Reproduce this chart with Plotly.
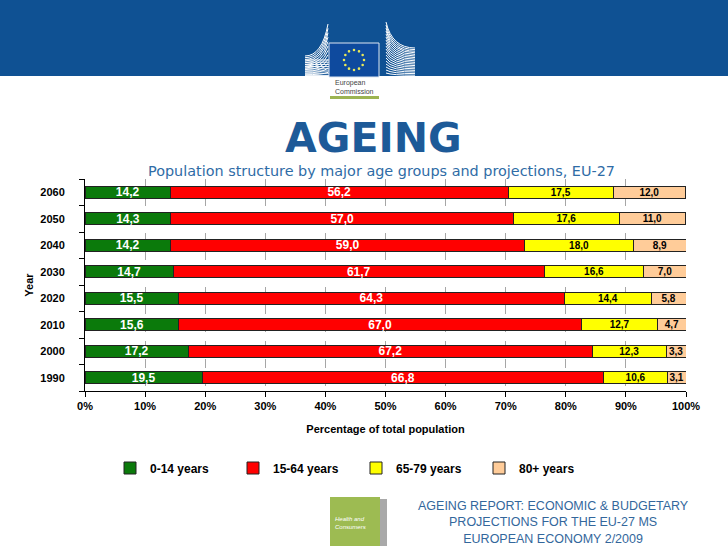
import plotly.graph_objects as go
import math

# ---------------- data ----------------
years = ["1990", "2000", "2010", "2020", "2030", "2040", "2050", "2060"]
age_0_14 = [19.5, 17.2, 15.6, 15.5, 14.7, 14.2, 14.3, 14.2]
age_15_64 = [66.8, 67.2, 67.0, 64.3, 61.7, 59.0, 57.0, 56.2]
age_65_79 = [10.6, 12.3, 12.7, 14.4, 16.6, 18.0, 17.6, 17.5]
age_80p = [3.1, 3.3, 4.7, 5.8, 7.0, 8.9, 11.0, 12.0]
series_names = ["0-14 years", "15-64 years", "65-79 years", "80+ years"]
x_ticks = [0, 10, 20, 30, 40, 50, 60, 70, 80, 90, 100]
x_ticklabels = [f"{v}%" for v in x_ticks]

W, H = 728, 546
ML, MR, MT, MB = 85, 42, 179, 155
PW, PH = W - ML - MR, H - MT - MB


def px(x):
    return (x - ML) / PW


def py(y):
    return (H - MB - y) / PH


def fmt(vals):
    return [f"{v:.1f}".replace(".", ",") for v in vals]


colors = ["#0B7A0B", "#FF0000", "#FFFF00", "#FFCC99"]
text_colors = ["white", "white", "black", "black"]
text_sizes = [12, 12, 10, 10]
all_series = [age_0_14, age_15_64, age_65_79, age_80p]

fig = go.Figure()
for name, vals, c, tc, ts in zip(series_names, all_series, colors, text_colors, text_sizes):
    fig.add_trace(go.Bar(
        y=years, x=vals, name=name, orientation="h",
        marker=dict(color=c, line=dict(color="#222222", width=1)),
        text=fmt(vals), textposition="inside", insidetextanchor="middle",
        constraintext="none",
        textfont=dict(color=tc, size=ts, family="Liberation Sans", weight="bold"),
        hoverinfo="skip",
    ))

shapes = []
annotations = []

# header band
shapes.append(dict(type="rect", xref="paper", yref="paper", x0=px(0), x1=px(W), y0=py(0), y1=py(76),
                   fillcolor="#0F5193", line=dict(width=0), layer="below"))
# left building lines
for k in range(12):
    yl = 56 + k * 1.7
    yr = 24 + k * 4.4
    shapes.append(dict(type="path", xref="paper", yref="paper",
                       path=f"M {px(305)} {py(yl)} Q {px(322)} {py(yl)} {px(328)} {py(yr)}",
                       line=dict(color="white", width=1)))
for k in range(8):
    y0 = 60 + k * 2.2
    shapes.append(dict(type="line", xref="paper", yref="paper", x0=px(305), x1=px(329), y0=py(y0), y1=py(y0),
                       line=dict(color="white", width=1)))
# right building lines
for k in range(18):
    y0 = 22 + k * 3.0
    y1 = 48 + k * 1.6
    shapes.append(dict(type="path", xref="paper", yref="paper",
                       path=f"M {px(386)} {py(y0)} Q {px(392)} {py(y1)} {px(415)} {py(y1)}",
                       line=dict(color="white", width=1)))
# flag
shapes.append(dict(type="rect", xref="paper", yref="paper", x0=px(329), x1=px(379), y0=py(43), y1=py(77),
                   fillcolor="#0E4A9E", line=dict(color="#DDE6F2", width=1)))
for i in range(12):
    a = 2 * math.pi * i / 12
    cx, cy = 354 + 10 * math.cos(a), 60 + 10 * math.sin(a)
    shapes.append(dict(type="circle", xref="paper", yref="paper",
                       x0=px(cx - 1.3), x1=px(cx + 1.3), y0=py(cy - 1.3), y1=py(cy + 1.3),
                       fillcolor="#E8E85A", line=dict(width=0)))
# green underline under logo text
shapes.append(dict(type="rect", xref="paper", yref="paper", x0=px(330), x1=px(379), y0=py(96), y1=py(99),
                   fillcolor="#9CB452", line=dict(width=0)))
# health and consumers box
shapes.append(dict(type="rect", xref="paper", yref="paper", x0=px(380), x1=px(387), y0=py(499), y1=py(546),
                   fillcolor="#A9A9A9", line=dict(width=0)))
shapes.append(dict(type="rect", xref="paper", yref="paper", x0=px(330), x1=px(380), y0=py(497), y1=py(546),
                   fillcolor="#9DBB52", line=dict(width=0)))


def ann(text, x, y, size, color, family="Liberation Sans", xanchor="center", **kw):
    annotations.append(dict(text=text, xref="paper", yref="paper", x=px(x), y=py(y), showarrow=False,
                            xanchor=xanchor, yanchor="middle",
                            font=dict(size=size, color=color, family=family), **kw))


ann("European", 333, 83, 7, "#444444", xanchor="left")
ann("Commission", 333, 92, 7, "#444444", xanchor="left")
ann("<b>AGEING</b>", 373, 138, 41, "#1D5A98", family="DejaVu Sans")
ann("Population structure by major age groups and projections, EU-27", 381, 171, 14.4, "#2F6CA6",
    family="DejaVu Sans")
ann("<i>Health and</i>", 333, 519, 6, "white", xanchor="left")
ann("<i>Consumers</i>", 333, 527, 6, "white", xanchor="left")
ann("AGEING REPORT: ECONOMIC &amp; BUDGETARY<br>PROJECTIONS FOR THE EU-27 MS<br>EUROPEAN ECONOMY 2/2009",
    553, 522, 12.5, "#33679C", family="Liberation Sans")

fig.update_layout(
    width=W, height=H, autosize=False,
    margin=dict(l=ML, r=MR, t=MT, b=MB, pad=0),
    barmode="stack", bargap=0.53,
    plot_bgcolor="white", paper_bgcolor="white",
    font=dict(family="Liberation Sans", color="black"),
    shapes=shapes, annotations=annotations,
    legend=dict(orientation="h", x=px(110), y=py(468), xanchor="left", yanchor="middle",
                font=dict(size=12, family="Liberation Sans", weight="bold"),
                entrywidth=78, entrywidthmode="pixels", traceorder="normal", itemwidth=30),
    xaxis=dict(range=[0, 100], tickvals=x_ticks, ticktext=x_ticklabels,
               showgrid=True, gridcolor="#A6A6A6", griddash="dash", gridwidth=1,
               showline=True, linecolor="black", linewidth=1, ticks="outside", ticklen=5,
               tickcolor="black", zeroline=False,
               tickfont=dict(size=11, weight="bold"),
               title=dict(text="Percentage of total population", font=dict(size=11, weight="bold"),
                          standoff=14)),
    yaxis=dict(type="category", categoryorder="array", categoryarray=years,
               showline=True, linecolor="black", linewidth=1, ticks="outside", ticklen=5,
               tickson="boundaries", tickcolor="black", showgrid=False,
               tickfont=dict(size=11, weight="bold"), ticklabelstandoff=17,
               title=dict(text="Year", font=dict(size=11, weight="bold"), standoff=4)),
)

fig.write_html("out.html")
